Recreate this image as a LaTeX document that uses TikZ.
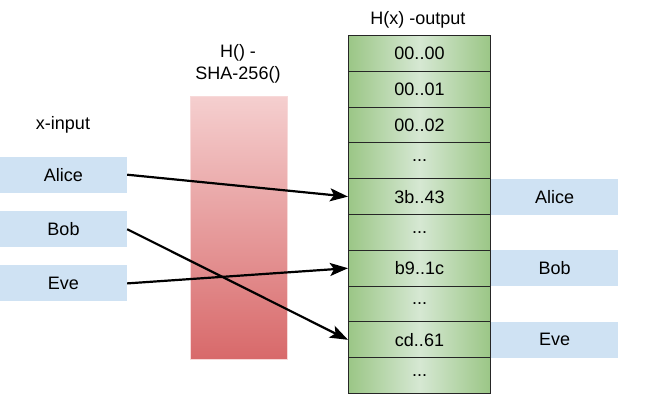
\documentclass[tikz,border=0pt]{standalone}
\usepackage{fontspec}
\setmainfont{Liberation Sans}
\usetikzlibrary{arrows.meta}
\definecolor{blu}{HTML}{CFE2F3}
\definecolor{gE}{HTML}{9BC686}
\definecolor{gL}{HTML}{D6E8D3}
\definecolor{rT}{HTML}{F5CFCF}
\definecolor{rB}{HTML}{D8696A}
\begin{document}
\begin{tikzpicture}[x=1pt,y=-1pt,
  font=\fontsize{18}{22}\selectfont,
  cell/.style={draw=black!85, line width=1pt, minimum width=142pt, minimum height=35.8pt, inner sep=0pt, anchor=north west, left color=gE, right color=gE, middle color=gL},
  bluebox/.style={fill=blu, minimum width=127pt, minimum height=36pt, inner sep=0pt},
  redbox/.style={draw=rT!80, line width=0.6pt, top color=rT, bottom color=rB, minimum width=97.5pt, minimum height=263pt, inner sep=0pt},
  arr/.style={line width=2.2pt, -{Stealth[length=18pt,width=13pt,inset=4pt]}}]
\useasboundingbox (0,0) rectangle (645,405);
\node[redbox] (h) at (239,228) {};
\node[cell] (c0) at (348,35) {00..00};
\node[cell] (c1) at (348,70.8) {00..01};
\node[cell] (c2) at (348,106.6) {00..02};
\node[cell] (c3) at (348,142.4) {...};
\node[cell] (c4) at (348,178.2) {3b..43};
\node[cell] (c5) at (348,214) {...};
\node[cell] (c6) at (348,249.8) {b9..1c};
\node[cell] (c7) at (348,285.6) {...};
\node[cell] (c8) at (348,321.4) {cd..61};
\node[cell] (c9) at (348,357.2) {...};
\node[bluebox] (la) at (63.5,174.7) {Alice};
\node[bluebox] (lb) at (63.5,229.2) {Bob};
\node[bluebox] (le) at (63.5,283.4) {Eve};
\node[bluebox, anchor=west] (ra) at (c4.east) {Alice};
\node[bluebox, anchor=west] (rb) at (c6.east) {Bob};
\node[bluebox, anchor=west] (re) at (c8.east) {Eve};
\node (xin) at (63,125) {x-input};
\node[align=center] (ht) at (238,64) {H() -\\SHA-256()};
\node (hx) at (418,20) {H(x) -output};
\draw[arr] (la.east) -- (c4.west);
\draw[arr] (lb.east) -- (c8.west);
\draw[arr] (le.east) -- (c6.west);
\end{tikzpicture}
\end{document}
